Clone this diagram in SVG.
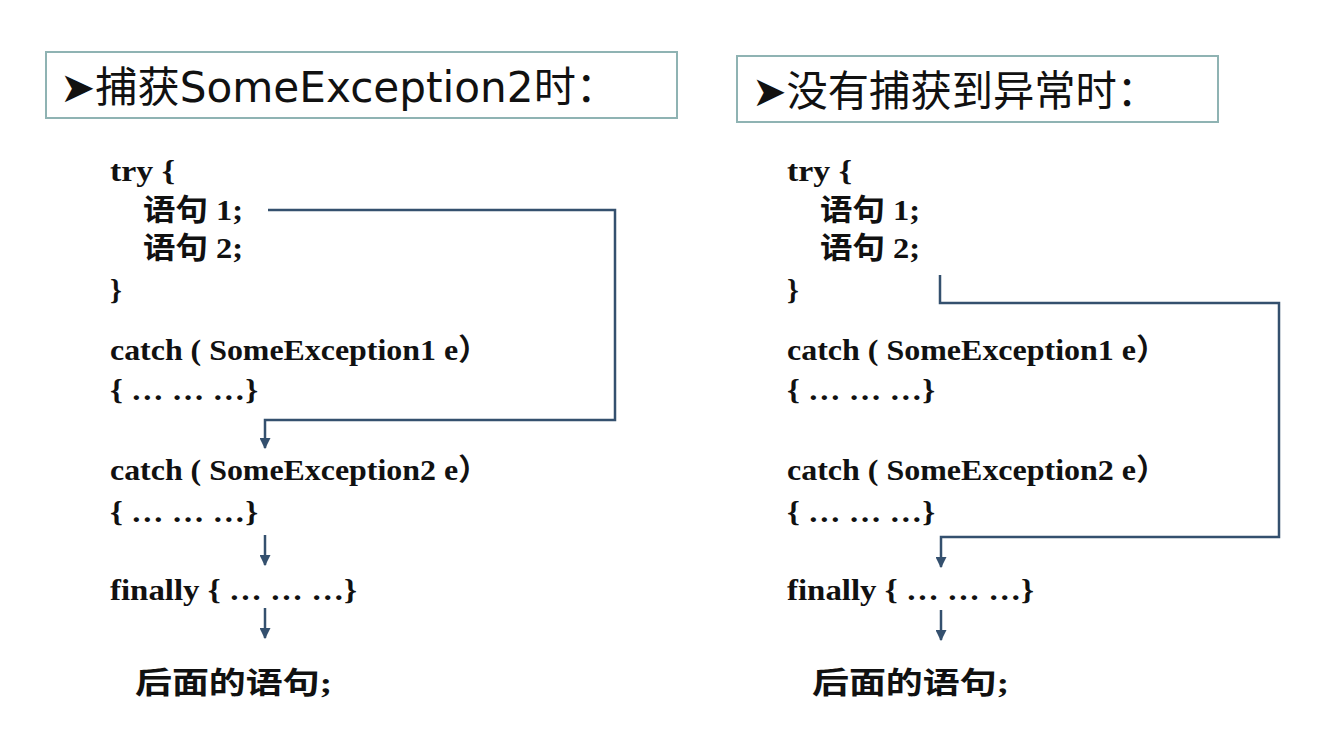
<svg xmlns="http://www.w3.org/2000/svg" width="1333" height="749" viewBox="0 0 1333 749">
<style>
.box{fill:#ffffff;stroke:#8fb3b3;stroke-width:2}
.title{font-family:"DejaVu Sans","Noto Sans CJK SC",sans-serif;font-size:42px;fill:#111}
.code{font-family:"Liberation Serif","Noto Sans CJK SC",serif;font-weight:bold;font-size:30px;fill:#111}
.conn{fill:none;stroke:#34506e;stroke-width:2.5}
</style>
<defs>
<marker id="ah" viewBox="0 0 10 10" refX="9" refY="5" markerWidth="11" markerHeight="11" markerUnits="userSpaceOnUse" orient="auto">
<path d="M0,0 L10,5 L0,10 z" fill="#34506e"/>
</marker>
</defs>
<rect width="1333" height="749" fill="#ffffff"/>
<g id="title-left">
<rect class="box" x="46" y="52" width="631" height="66"/>
<text class="title" x="60" y="102" textLength="558" lengthAdjust="spacingAndGlyphs">➤捕获SomeException2时：</text>
</g>
<g id="title-right">
<rect class="box" x="737" y="56" width="481" height="66"/>
<text class="title" x="752" y="106" textLength="406" lengthAdjust="spacingAndGlyphs">➤没有捕获到异常时：</text>
</g>
<g id="code-left">
<text class="code" x="110" y="181" textLength="65" lengthAdjust="spacingAndGlyphs">try {</text>
<text class="code" x="143" y="220" textLength="100" lengthAdjust="spacingAndGlyphs">语句 1;</text>
<text class="code" x="143" y="258" textLength="100" lengthAdjust="spacingAndGlyphs">语句 2;</text>
<text class="code" x="110" y="300">}</text>
<text class="code" x="110" y="360" textLength="380" lengthAdjust="spacingAndGlyphs">catch ( SomeException1 e）</text>
<text class="code" x="110" y="400" textLength="148" lengthAdjust="spacingAndGlyphs">{ … … …}</text>
<text class="code" x="110" y="480" textLength="380" lengthAdjust="spacingAndGlyphs">catch ( SomeException2 e）</text>
<text class="code" x="110" y="522" textLength="148" lengthAdjust="spacingAndGlyphs">{ … … …}</text>
<text class="code" x="110" y="600" textLength="247" lengthAdjust="spacingAndGlyphs">finally { … … …}</text>
<text class="code" x="135" y="693" textLength="197" lengthAdjust="spacingAndGlyphs">后面的语句;</text>
</g>
<g id="code-right">
<text class="code" x="787" y="181" textLength="65" lengthAdjust="spacingAndGlyphs">try {</text>
<text class="code" x="820" y="220" textLength="100" lengthAdjust="spacingAndGlyphs">语句 1;</text>
<text class="code" x="820" y="258" textLength="100" lengthAdjust="spacingAndGlyphs">语句 2;</text>
<text class="code" x="787" y="300">}</text>
<text class="code" x="787" y="360" textLength="381" lengthAdjust="spacingAndGlyphs">catch ( SomeException1 e）</text>
<text class="code" x="787" y="400" textLength="148" lengthAdjust="spacingAndGlyphs">{ … … …}</text>
<text class="code" x="787" y="480" textLength="381" lengthAdjust="spacingAndGlyphs">catch ( SomeException2 e）</text>
<text class="code" x="787" y="522" textLength="148" lengthAdjust="spacingAndGlyphs">{ … … …}</text>
<text class="code" x="787" y="600" textLength="247" lengthAdjust="spacingAndGlyphs">finally { … … …}</text>
<text class="code" x="812" y="693" textLength="197" lengthAdjust="spacingAndGlyphs">后面的语句;</text>
</g>
<g id="connectors">
<path class="conn" d="M268,210 H615 V420 H265 V448" marker-end="url(#ah)"/>
<path class="conn" d="M265,535 V565" marker-end="url(#ah)"/>
<path class="conn" d="M265,608 V638" marker-end="url(#ah)"/>
<path class="conn" d="M940,275 V303 H1279 V537 H941 V567" marker-end="url(#ah)"/>
<path class="conn" d="M941,610 V640" marker-end="url(#ah)"/>
</g>
</svg>
